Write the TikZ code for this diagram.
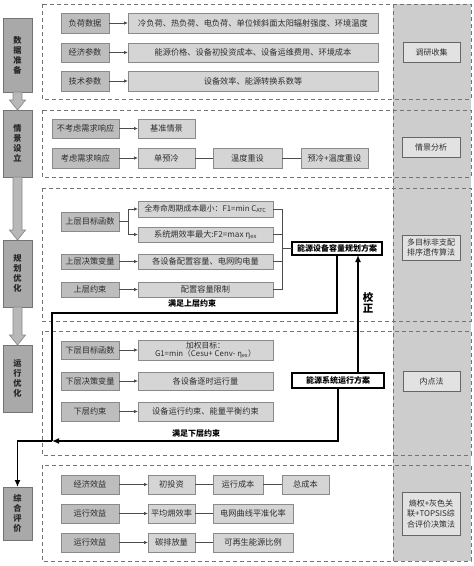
\documentclass[tikz,border=0pt]{standalone}
\usepackage{fontspec}
\setmainfont{Noto Sans CJK SC}
\usetikzlibrary{arrows.meta,calc}
\definecolor{lblc}{HTML}{BDBDBD}
\definecolor{cntc}{HTML}{D5D5D5}
\definecolor{bdrc}{HTML}{8A8A8A}
\definecolor{colc}{HTML}{CDCDCD}
\definecolor{methc}{HTML}{E2E2E2}
\definecolor{sidec}{HTML}{A9A9A9}
\definecolor{shaftc}{HTML}{B8B8B8}
\definecolor{txtc}{HTML}{2E2E2E}
\newcommand\mybox[7]{\node[#6, minimum width={(#4-#2)*1pt}, minimum height={(#5-#3)*1pt}] (#1) at ({(#2+#4)/2},{(#3+#5)/2}) {#7};}
\newcommand\blockarrow[2]{\path let \p1=(#1.south), \p2=(#2.north) in [draw=bdrc, fill=shaftc, line width=0.7pt]
  (\x1-4.5pt,\y1) -- (\x1+4.5pt,\y1) -- (\x1+4.5pt,\y2+10pt) -- (\x1+8pt,\y2+10pt) -- (\x1,\y2) -- (\x1-8pt,\y2+10pt) -- (\x1-4.5pt,\y2+10pt) -- cycle;}
\begin{document}
\begin{tikzpicture}[x=1pt,y=-1pt,
  base/.style={draw=bdrc, line width=0.8pt, inner sep=0pt, outer sep=0pt, text=txtc, font=\fontsize{8.2}{9}\selectfont, align=center},
  lab/.style={base, fill=lblc},
  cntbox/.style={base, fill=cntc},
  methbox/.style={base, fill=methc, draw=black!60, line width=1pt, font=\fontsize{8}{10.5}\selectfont},
  planbox/.style={draw=black, line width=1.2pt, fill=white, inner sep=0pt, outer sep=0pt, font=\bfseries\fontsize{8}{9}\selectfont},
  sidebox/.style={draw=black!55, fill=sidec, line width=0.8pt, inner sep=0pt, outer sep=0pt, text=black!85, font=\bfseries\fontsize{8.2}{10}\selectfont, align=center},
  sect/.style={draw=black!55, dash pattern=on 4pt off 3pt, line width=1pt},
  conn/.style={draw=black!70, line width=0.8pt},
  arr/.style={conn, -{Latex[length=4pt,width=3.5pt]}},
  blk/.style={draw=black, line width=1.5pt},
  blkarr/.style={blk, -{Latex[length=7pt,width=6pt]}},
  note/.style={font=\bfseries\fontsize{8}{9}\selectfont, text=black}]
\useasboundingbox (0,0) rectangle (474,566);
\fill[white] (0,0) rectangle (474,566);
% right column background
\fill[colc] (393,4) rectangle (471,561);
% section frames
\draw[sect] (42,4) rectangle (471,99);
\draw[sect] (42,110) rectangle (471,177);
\draw[sect] (42,188) rectangle (471,321);
\draw[sect] (42,331) rectangle (471,455);
\draw[sect] (42,465) rectangle (471,561);
\draw[sect] (393,4) -- (393,561);

% side boxes
\mybox{s1}{3}{18}{32}{92}{sidebox}{数\\据\\准\\备}
\mybox{s2}{3}{110}{32}{177}{sidebox}{情\\景\\设\\立}
\mybox{s3}{3}{240}{32}{307}{sidebox}{规\\划\\优\\化}
\mybox{s4}{3}{345}{32}{412}{sidebox}{运\\行\\优\\化}
\mybox{s5}{3}{487}{32}{540}{sidebox}{综\\合\\评\\价}
\blockarrow{s1}{s2}
\blockarrow{s2}{s3}
\blockarrow{s3}{s4}

% section 1
\mybox{fh}{61}{13}{109}{33}{lab}{负荷数据}
\mybox{fhc}{128}{13}{378}{33}{cntbox}{冷负荷、热负荷、电负荷、单位倾斜面太阳辐射强度、环境温度}
\mybox{jj}{61}{43}{109}{62}{lab}{经济参数}
\mybox{jjc}{128}{43}{378}{62}{cntbox}{能源价格、设备初投资成本、设备运维费用、环境成本}
\mybox{js}{61}{71}{109}{91}{lab}{技术参数}
\mybox{jsc}{128}{71}{378}{91}{cntbox}{设备效率、能源转换系数等}
\mybox{m1}{403}{42}{460}{62}{methbox}{调研收集}
\draw[arr] (fh.east) -- (fhc.west);
\draw[arr] (jj.east) -- (jjc.west);
\draw[arr] (js.east) -- (jsc.west);

% section 2
\mybox{bk}{52}{119}{119}{138}{lab}{不考虑需求响应}
\mybox{jz}{138}{119}{195}{138}{cntbox}{基准情景}
\mybox{kl}{52}{148}{119}{168}{lab}{考虑需求响应}
\mybox{dy}{138}{148}{195}{168}{cntbox}{单预冷}
\mybox{wd}{213}{148}{282}{168}{cntbox}{温度重设}
\mybox{yl}{301}{148}{368}{168}{cntbox}{预冷+温度重设}
\mybox{m2}{402}{137}{460}{157}{methbox}{情景分析}
\draw[arr] (bk.east) -- (jz.west);
\draw[arr] (kl.east) -- (dy.west);
\draw[conn] (dy.east) -- (wd.west);
\draw[conn] (wd.east) -- (yl.west);

% section 3
\mybox{smb}{61}{212}{119}{231}{lab}{上层目标函数}
\mybox{f1}{138}{201}{273}{217}{cntbox, font=\fontsize{7.8}{9}\selectfont}{全寿命周期成本最小：F1=min C\textsubscript{ATC}}
\mybox{f2}{138}{227}{273}{242}{cntbox}{系统㶲效率最大:F2=max η\textsubscript{ex}}
\mybox{sjc}{61}{254}{119}{269}{lab}{上层决策变量}
\mybox{sjcc}{138}{254}{273}{269}{cntbox}{各设备配置容量、电网购电量}
\mybox{sys}{61}{282}{119}{297}{lab}{上层约束}
\mybox{sysc}{138}{282}{273}{297}{cntbox}{配置容量限制}
\mybox{plan}{292}{242}{382}{255}{planbox}{能源设备容量规划方案}
\mybox{m3}{402}{235}{460}{260}{methbox}{多目标非支配\\排序遗传算法}
\coordinate (fan) at (128,221.5);
\draw[conn] (smb.east) -- (fan);
\draw[arr] (fan) |- (f1.west);
\draw[arr] (fan) |- (f2.west);
\draw[arr] (sjc.east) -- (sjcc.west);
\draw[arr] (sys.east) -- (sysc.west);
\coordinate (br) at (282,248.5);
\draw[conn] (f1.east) -| (br);
\draw[conn] (f2.east) -| (br);
\draw[conn] (sjcc.east) -| (br);
\draw[conn] (sysc.east) -| (br);
\draw[conn] (br) -- (plan.west);
\node[note] (sat1) at (192,303) {满足上层约束};

% section 4
\mybox{xmb}{61}{341}{119}{359}{lab}{下层目标函数}
\mybox{g1}{138}{340}{273}{360}{cntbox, font=\fontsize{7.8}{8.6}\selectfont}{加权目标：\\G1=min（Cesu+ Cenv- η\textsubscript{ex}）}
\mybox{xjc}{61}{372}{119}{390}{lab}{下层决策变量}
\mybox{xjcc}{138}{372}{273}{390}{cntbox}{各设备逐时运行量}
\mybox{xys}{61}{402}{119}{421}{lab}{下层约束}
\mybox{xysc}{138}{402}{273}{421}{cntbox}{设备运行约束、能量平衡约束}
\mybox{op}{292}{373}{384}{388}{planbox}{能源系统运行方案}
\mybox{m4}{403}{371}{460}{391}{methbox}{内点法}
\draw[arr] (xmb.east) -- (g1.west);
\draw[arr] (xjc.east) -- (xjcc.west);
\draw[arr] (xys.east) -- (xysc.west);
\node[note] (sat2) at (196,433) {满足下层约束};

% feedback lines
\coordinate (c1) at (52,313);
\coordinate (c2) at (52,441);
\coordinate (c3) at (17.5,441);
\coordinate (xz) at (358,0);
\draw[blk] (plan.south) |- (c1) -- (c2);
\draw[blkarr] (op.south) |- (c2);
\draw[blkarr] (c2) -- (c3) -- (s5.north);
\draw[blkarr] (op.north -| xz) -- (plan.south -| xz);
\node[font=\bfseries\fontsize{10.5}{11.5}\selectfont, align=center] (jzl) at (368,303) {校\\正};

% section 5
\mybox{e1}{61}{475}{119}{494}{lab}{经济效益}
\mybox{e1a}{148}{475}{195}{494}{cntbox}{初投资}
\mybox{e1b}{213}{475}{263}{494}{cntbox}{运行成本}
\mybox{e1c}{282}{475}{329}{494}{cntbox}{总成本}
\mybox{e2}{61}{504}{119}{523}{lab}{运行效益}
\mybox{e2a}{148}{504}{195}{523}{cntbox}{平均㶲效率}
\mybox{e2b}{213}{504}{293}{523}{cntbox}{电网曲线平准化率}
\mybox{e3}{61}{533}{119}{552}{lab}{运行效益}
\mybox{e3a}{148}{533}{195}{552}{cntbox}{碳排放量}
\mybox{e3b}{213}{533}{293}{552}{cntbox}{可再生能源比例}
\mybox{m5}{402}{492}{460}{535}{methbox}{熵权+灰色关\\联+TOPSIS综\\合评价决策法}
\draw[arr] (e1.east) -- (e1a.west);
\draw[conn] (e1a.east) -- (e1b.west);
\draw[conn] (e1b.east) -- (e1c.west);
\draw[arr] (e2.east) -- (e2a.west);
\draw[conn] (e2a.east) -- (e2b.west);
\draw[arr] (e3.east) -- (e3a.west);
\draw[conn] (e3a.east) -- (e3b.west);
\end{tikzpicture}
\end{document}
